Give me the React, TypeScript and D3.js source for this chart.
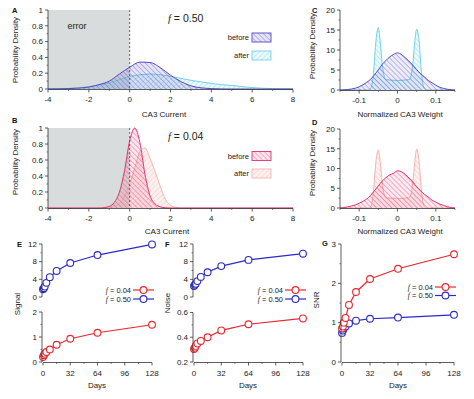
import React from 'react';
import * as d3 from 'd3';

const FONT = '"Liberation Sans", Arial, sans-serif';

// ---- A / B: CA3 current distributions ----
const currentXA = [-4, -3.5, -3, -2.5, -2, -1.5, -1, -0.5, 0, 0.5, 1, 1.5, 2, 2.5, 3, 3.5, 4, 4.5, 5, 5.5, 6, 6.5, 7, 7.5, 8];
const beforeA = [0, 0.002, 0.005, 0.012, 0.025, 0.055, 0.1, 0.19, 0.275, 0.34, 0.335, 0.27, 0.175, 0.095, 0.04, 0.015, 0.005, 0.001, 0, 0, 0, 0, 0, 0, 0];
const afterA = [0.003, 0.005, 0.008, 0.015, 0.03, 0.05, 0.075, 0.12, 0.16, 0.18, 0.19, 0.18, 0.16, 0.135, 0.11, 0.09, 0.07, 0.055, 0.045, 0.03, 0.018, 0.01, 0.005, 0.002, 0];

const currentXB = [-4, -1.5, -1.25, -1, -0.75, -0.5, -0.25, 0, 0.25, 0.5, 0.75, 1, 1.25, 1.5, 1.75, 2, 2.25, 2.5, 8];
const beforeB = [0, 0, 0.005, 0.02, 0.07, 0.2, 0.47, 0.84, 1.0, 0.82, 0.42, 0.15, 0.05, 0.015, 0.003, 0, 0, 0, 0];
const afterB = [0, 0, 0, 0.005, 0.02, 0.06, 0.15, 0.3, 0.5, 0.7, 0.75, 0.62, 0.45, 0.27, 0.11, 0.035, 0.01, 0, 0];

// ---- C / D: normalized CA3 weight distributions ----
const weightX = [-0.15, -0.14, -0.13, -0.12, -0.11, -0.1, -0.09, -0.08, -0.07, -0.06, -0.05, -0.04, -0.03, -0.02, -0.01, 0, 0.01, 0.02, 0.03, 0.04, 0.05, 0.06, 0.07, 0.08, 0.09, 0.1, 0.11, 0.12, 0.13, 0.14, 0.15];
const beforeC = [0, 0.05, 0.12, 0.25, 0.45, 0.8, 1.3, 1.95, 2.7, 3.8, 5.0, 6.4, 7.4, 8.3, 8.9, 9.3, 8.9, 8.1, 7.2, 6.2, 5.1, 4.1, 3.3, 2.4, 1.8, 1.2, 0.7, 0.4, 0.18, 0.06, 0];
const beforeD = [0, 0.1, 0.3, 0.5, 0.8, 1.2, 1.7, 2.3, 3.2, 4.4, 5.6, 6.8, 7.7, 8.4, 8.8, 9.4, 9.2, 8.5, 7.6, 6.6, 5.4, 4.4, 3.5, 2.8, 2.0, 1.5, 1.0, 0.65, 0.35, 0.1, 0];
const weightXAfter = [-0.15, -0.075, -0.068, -0.062, -0.056, -0.05, -0.045, -0.04, -0.035, -0.03, 0, 0.03, 0.035, 0.04, 0.045, 0.05, 0.056, 0.062, 0.068, 0.075, 0.15];
const afterC = [0, 0, 0.8, 5, 12.5, 15.6, 12, 6.5, 3.5, 2.6, 2.4, 2.6, 3.5, 6.5, 12, 15.2, 12.5, 5, 0.8, 0, 0];
const afterD = [0, 0, 0.8, 5, 12, 14.7, 11.5, 6.5, 3.5, 2.6, 2.4, 2.6, 3.5, 6.5, 11.5, 14.9, 12, 5, 0.8, 0, 0];

// ---- E / F / G: over days ----
const days = [0, 1, 2, 4, 8, 16, 32, 64, 128];
const signal50 = [1.75, 2.0, 2.35, 3.2, 4.5, 5.9, 7.7, 9.5, 11.9];
const signal04 = [0.2, 0.27, 0.33, 0.4, 0.5, 0.69, 0.93, 1.17, 1.49];
const noise50 = [2.5, 2.75, 3.0, 3.6, 4.55, 5.6, 7.0, 8.4, 9.8];
const noise04 = [0.305, 0.315, 0.33, 0.35, 0.37, 0.4, 0.455, 0.505, 0.552];
const snr04 = [0.85, 0.9, 1.0, 1.12, 1.45, 1.78, 2.11, 2.37, 2.74];
const snr50 = [0.74, 0.8, 0.85, 0.9, 0.98, 1.05, 1.1, 1.13, 1.2];

const legendLabels = ['0.04', '0.50'];

const COL = {
  beforeA: '#5548c8',
  afterA: '#72d3e6',
  beforeB: '#e0336c',
  afterB: '#f4b4ae',
  gray: '#d9dcdc',
  red: '#e8262e',
  blue: '#2a2ac8',
  text: '#222',
};

type Scale = d3.ScaleLinear<number, number>;

const YAxis = ({ scale, x, ticks, minor = [], fmt = (d: number) => String(d) }:
  { scale: Scale; x: number; ticks: number[]; minor?: number[]; fmt?: (d: number) => string }) => {
  const [r0, r1] = scale.range();
  return (
    <g>
      <line x1={x} x2={x} y1={r0} y2={r1} stroke="#333" strokeWidth={0.8} />
      {minor.map(t => <line key={'m' + t} x1={x - 1.5} x2={x} y1={scale(t)} y2={scale(t)} stroke="#333" strokeWidth={0.6} />)}
      {ticks.map(t => (
        <g key={t}>
          <line x1={x - 3} x2={x} y1={scale(t)} y2={scale(t)} stroke="#333" strokeWidth={0.8} />
          <text x={x - 5} y={scale(t)} dy="0.35em" textAnchor="end" fontSize={8} fill={COL.text}>{fmt(t)}</text>
        </g>
      ))}
    </g>
  );
};

const XAxis = ({ scale, y, ticks, minor = [], fmt = (d: number) => String(d), labelDy = 10 }:
  { scale: Scale; y: number; ticks: number[]; minor?: number[]; fmt?: (d: number) => string; labelDy?: number }) => {
  const [r0, r1] = scale.range();
  return (
    <g>
      <line x1={r0} x2={r1} y1={y} y2={y} stroke="#333" strokeWidth={0.8} />
      {minor.map(t => <line key={'m' + t} x1={scale(t)} x2={scale(t)} y1={y} y2={y + 1.5} stroke="#333" strokeWidth={0.6} />)}
      {ticks.map(t => (
        <g key={t}>
          <line x1={scale(t)} x2={scale(t)} y1={y} y2={y + 3} stroke="#333" strokeWidth={0.8} />
          <text x={scale(t)} y={y + labelDy} dy="0.35em" textAnchor="middle" fontSize={8} fill={COL.text}>{fmt(t)}</text>
        </g>
      ))}
    </g>
  );
};

const Hatch = ({ id, color, tint, angle }: { id: string; color: string; tint: string; angle: number }) => (
  <pattern id={id} patternUnits="userSpaceOnUse" width={3.6} height={3.6} patternTransform={`rotate(${angle})`}>
    <rect width={3.6} height={3.6} fill={tint} />
    <line x1={0} y1={0} x2={0} y2={3.6} stroke={color} strokeWidth={0.7} />
  </pattern>
);

const Density = ({ xs, ys, xScale, yScale, color, fill, width = 1 }:
  { xs: number[]; ys: number[]; xScale: Scale; yScale: Scale; color: string; fill: string; width?: number }) => {
  const pts: [number, number][] = xs.map((x, i) => [x, ys[i]]);
  const area = d3.area<[number, number]>()
    .x(d => xScale(d[0])).y0(yScale(0)).y1(d => yScale(d[1]))
    .curve(d3.curveMonotoneX);
  const line = d3.line<[number, number]>()
    .x(d => xScale(d[0])).y(d => yScale(d[1]))
    .curve(d3.curveMonotoneX);
  return (
    <g>
      <path d={area(pts) ?? ''} fill={fill} />
      <path d={line(pts) ?? ''} fill="none" stroke={color} strokeWidth={width} />
    </g>
  );
};

const FLabel = ({ x, y, value, size = 10.5, anchor = 'start' }:
  { x: number; y: number; value: string; size?: number; anchor?: string }) => (
  <text x={x} y={y} fontSize={size} fill={COL.text} textAnchor={anchor}>
    <tspan fontFamily='"Liberation Serif", serif' fontStyle="italic">f</tspan> = {value}
  </text>
);

const LegendBox = ({ x, y, label, fill, color }: { x: number; y: number; label: string; fill: string; color: string }) => (
  <g>
    <text x={x - 3} y={y + 4.5} dy="0.35em" textAnchor="end" fontSize={7.5} fill={COL.text}>{label}</text>
    <rect x={x} y={y} width={19} height={9} fill={fill} stroke={color} strokeWidth={0.9} />
  </g>
);

const Series = ({ xs, ys, xScale, yScale, color }: { xs: number[]; ys: number[]; xScale: Scale; yScale: Scale; color: string }) => {
  const pts: [number, number][] = xs.map((x, i) => [x, ys[i]]);
  const line = d3.line<[number, number]>().x(d => xScale(d[0])).y(d => yScale(d[1]));
  return (
    <g>
      <path d={line(pts) ?? ''} fill="none" stroke={color} strokeWidth={1.2} />
      {pts.map((d, i) => (
        <circle key={i} cx={xScale(d[0])} cy={yScale(d[1])} r={3.4} fill="white" stroke={color} strokeWidth={1.1} />
      ))}
    </g>
  );
};

const DayLegend = ({ xEnd, y0, y1 }: { xEnd: number; y0: number; y1: number }) => (
  <g>
    {[{ y: y0, c: COL.red, v: legendLabels[0] }, { y: y1, c: COL.blue, v: legendLabels[1] }].map(l => (
      <g key={l.v}>
        <FLabel x={xEnd - 23} y={l.y + 2.8} value={l.v} size={7.5} anchor="end" />
        <line x1={xEnd - 21} x2={xEnd} y1={l.y} y2={l.y} stroke={l.c} strokeWidth={1.2} />
        <circle cx={xEnd - 10.5} cy={l.y} r={3.4} fill="white" stroke={l.c} strokeWidth={1.1} />
      </g>
    ))}
  </g>
);

const PanelLetter = ({ x, y, t }: { x: number; y: number; t: string }) => (
  <text x={x} y={y} dy="0.35em" fontSize={7.5} fontWeight="bold" fill="#111">{t}</text>
);

const VTitle = ({ x, y, t }: { x: number; y: number; t: string }) => (
  <text transform={`translate(${x},${y}) rotate(-90)`} textAnchor="middle" dy="0.35em" fontSize={8} fill={COL.text}>{t}</text>
);

const HTitle = ({ x, y, t }: { x: number; y: number; t: string }) => (
  <text x={x} y={y} textAnchor="middle" dy="0.35em" fontSize={8} fill={COL.text}>{t}</text>
);

export default function App() {
  const xA = d3.scaleLinear().domain([-4, 8]).range([48, 293]);
  const yA = d3.scaleLinear().domain([0, 1]).range([89, 10]);
  const yB = d3.scaleLinear().domain([0, 1]).range([208, 128]);
  const xC = d3.scaleLinear().domain([-0.15, 0.15]).range([340, 455]);
  const yC = d3.scaleLinear().domain([0, 20]).range([90, 10]);
  const yD = d3.scaleLinear().domain([0, 20]).range([208, 129]);

  const xE = d3.scaleLinear().domain([0, 128]).range([43, 152]);
  const yEt = d3.scaleLinear().domain([0, 12]).range([297, 244]);
  const yEb = d3.scaleLinear().domain([0, 2]).range([362, 312]);
  const xF = d3.scaleLinear().domain([0, 128]).range([194, 303]);
  const yFt = d3.scaleLinear().domain([0, 12]).range([297, 244]);
  const yFb = d3.scaleLinear().domain([0.2, 0.6]).range([362, 312.5]);
  const xG = d3.scaleLinear().domain([0, 128]).range([342, 454]);
  const yG = d3.scaleLinear().domain([0, 3]).range([362, 244]);

  const curTicks = [-4, -2, 0, 2, 4, 6, 8];
  const curMinor = [-3, -1, 1, 3, 5, 7];
  const pdTicks = [0, 0.2, 0.4, 0.6, 0.8, 1];
  const pdMinor = [0.1, 0.3, 0.5, 0.7, 0.9];
  const wTicks = [-0.1, 0, 0.1];
  const wMinor = [-0.15, -0.05, 0.05, 0.15];
  const wyTicks = [0, 5, 10, 15, 20];
  const wyMinor = [2.5, 7.5, 12.5, 17.5];
  const dayTicks = [0, 32, 64, 96, 128];
  const dayMinor = [16, 48, 80, 112];

  return (
    <svg width={474} height={399} style={{ position: 'absolute', left: 0, top: 0, background: 'white' }} fontFamily={FONT}>
      <defs>
        <Hatch id="hBA" color={COL.beforeA} tint="rgba(85,72,200,0.14)" angle={-45} />
        <Hatch id="hAA" color={COL.afterA} tint="rgba(114,211,230,0.14)" angle={45} />
        <Hatch id="hBB" color={COL.beforeB} tint="rgba(224,51,108,0.12)" angle={-45} />
        <Hatch id="hAB" color={COL.afterB} tint="rgba(244,180,174,0.18)" angle={45} />
        <Hatch id="hBC" color={COL.beforeA} tint="rgba(85,72,200,0.10)" angle={-45} />
        <Hatch id="hAC" color={COL.afterA} tint="rgba(114,211,230,0.14)" angle={-45} />
        <Hatch id="hBD" color={COL.beforeB} tint="rgba(224,51,108,0.10)" angle={-45} />
        <Hatch id="hAD" color={COL.afterB} tint="rgba(244,180,174,0.18)" angle={-45} />
      </defs>

      {/* A */}
      <rect x={xA(-4)} y={yA(1)} width={xA(0) - xA(-4)} height={yA(0) - yA(1)} fill={COL.gray} />
      <Density xs={currentXA} ys={afterA} xScale={xA} yScale={yA} color={COL.afterA} fill="url(#hAA)" />
      <Density xs={currentXA} ys={beforeA} xScale={xA} yScale={yA} color={COL.beforeA} fill="url(#hBA)" />
      <line x1={xA(0)} x2={xA(0)} y1={yA(1)} y2={yA(0)} stroke="#444" strokeWidth={0.8} strokeDasharray="2,2" />
      <YAxis scale={yA} x={48} ticks={pdTicks} minor={pdMinor} />
      <XAxis scale={xA} y={89.5} ticks={curTicks} minor={curMinor} />
      <text x={77} y={26} dy="0.35em" textAnchor="middle" fontSize={9} fill={COL.text}>error</text>
      <FLabel x={168} y={22} value="0.50" />
      <LegendBox x={252} y={33} label="before" fill="url(#hBA)" color={COL.beforeA} />
      <LegendBox x={252} y={51} label="after" fill="url(#hAA)" color={COL.afterA} />
      <PanelLetter x={12} y={10} t="A" />
      <VTitle x={15} y={50} t="Probability Density" />
      <HTitle x={164} y={114} t="CA3 Current" />

      {/* B */}
      <rect x={xA(-4)} y={yB(1)} width={xA(0) - xA(-4)} height={yB(0) - yB(1)} fill={COL.gray} />
      <Density xs={currentXB} ys={afterB} xScale={xA} yScale={yB} color={COL.afterB} fill="url(#hAB)" />
      <Density xs={currentXB} ys={beforeB} xScale={xA} yScale={yB} color={COL.beforeB} fill="url(#hBB)" />
      <line x1={xA(0)} x2={xA(0)} y1={yB(1)} y2={yB(0)} stroke="#444" strokeWidth={0.8} strokeDasharray="2,2" />
      <YAxis scale={yB} x={48} ticks={pdTicks} minor={pdMinor} />
      <XAxis scale={xA} y={208.5} ticks={curTicks} minor={curMinor} />
      <FLabel x={168} y={140} value="0.04" />
      <LegendBox x={252} y={151.5} label="before" fill="url(#hBB)" color={COL.beforeB} />
      <LegendBox x={252} y={169} label="after" fill="url(#hAB)" color={COL.afterB} />
      <PanelLetter x={12} y={120} t="B" />
      <VTitle x={15} y={162} t="Probability Density" />
      <HTitle x={167} y={231} t="CA3 Current" />

      {/* C */}
      <Density xs={weightXAfter} ys={afterC} xScale={xC} yScale={yC} color={COL.afterA} fill="url(#hAC)" />
      <Density xs={weightX} ys={beforeC} xScale={xC} yScale={yC} color={COL.beforeA} fill="url(#hBC)" />
      <YAxis scale={yC} x={340} ticks={wyTicks} minor={wyMinor} />
      <XAxis scale={xC} y={90.5} ticks={wTicks} minor={wMinor} />
      <PanelLetter x={312} y={10} t="C" />
      <VTitle x={312} y={46} t="Probability Density" />
      <HTitle x={400} y={114} t="Normalized CA3 Weight" />

      {/* D */}
      <Density xs={weightXAfter} ys={afterD} xScale={xC} yScale={yD} color={COL.afterB} fill="url(#hAD)" />
      <Density xs={weightX} ys={beforeD} xScale={xC} yScale={yD} color={COL.beforeB} fill="url(#hBD)" />
      <YAxis scale={yD} x={340} ticks={wyTicks} minor={wyMinor} />
      <XAxis scale={xC} y={208.5} ticks={wTicks} minor={wMinor} />
      <PanelLetter x={312} y={122} t="D" />
      <VTitle x={312} y={163} t="Probability Density" />
      <HTitle x={400} y={231} t="Normalized CA3 Weight" />

      {/* E */}
      <Series xs={days} ys={signal50} xScale={xE} yScale={yEt} color={COL.blue} />
      <Series xs={days} ys={signal04} xScale={xE} yScale={yEb} color={COL.red} />
      <YAxis scale={yEt} x={42} ticks={[0, 4, 8, 12]} minor={[2, 6, 10]} />
      <YAxis scale={yEb} x={42} ticks={[0, 1, 2]} minor={[0.5, 1.5]} />
      <XAxis scale={xE} y={362.5} ticks={dayTicks} minor={dayMinor} labelDy={11} />
      <DayLegend xEnd={154} y0={290} y1={299} />
      <PanelLetter x={17} y={244} t="E" />
      <VTitle x={17} y={304} t="Signal" />
      <HTitle x={97} y={385} t="Days" />

      {/* F */}
      <Series xs={days} ys={noise50} xScale={xF} yScale={yFt} color={COL.blue} />
      <Series xs={days} ys={noise04} xScale={xF} yScale={yFb} color={COL.red} />
      <YAxis scale={yFt} x={193} ticks={[0, 4, 8, 12]} minor={[2, 6, 10]} />
      <YAxis scale={yFb} x={193} ticks={[0.2, 0.4, 0.6]} minor={[0.3, 0.5]} fmt={d => d3.format('.1f')(d)} />
      <XAxis scale={xF} y={362.5} ticks={dayTicks} minor={dayMinor} labelDy={11} />
      <DayLegend xEnd={306} y0={290} y1={299} />
      <PanelLetter x={165} y={244} t="F" />
      <VTitle x={167} y={303} t="Noise" />
      <HTitle x={248} y={385} t="Days" />

      {/* G */}
      <Series xs={days} ys={snr50} xScale={xG} yScale={yG} color={COL.blue} />
      <Series xs={days} ys={snr04} xScale={xG} yScale={yG} color={COL.red} />
      <YAxis scale={yG} x={341} ticks={[0, 1, 2, 3]} minor={[0.5, 1.5, 2.5]} />
      <XAxis scale={xG} y={362.5} ticks={dayTicks} minor={dayMinor} labelDy={11} />
      <DayLegend xEnd={456} y0={287} y1={295.5} />
      <PanelLetter x={322} y={243} t="G" />
      <VTitle x={316} y={300} t="SNR" />
      <HTitle x={398} y={385} t="Days" />
    </svg>
  );
}
